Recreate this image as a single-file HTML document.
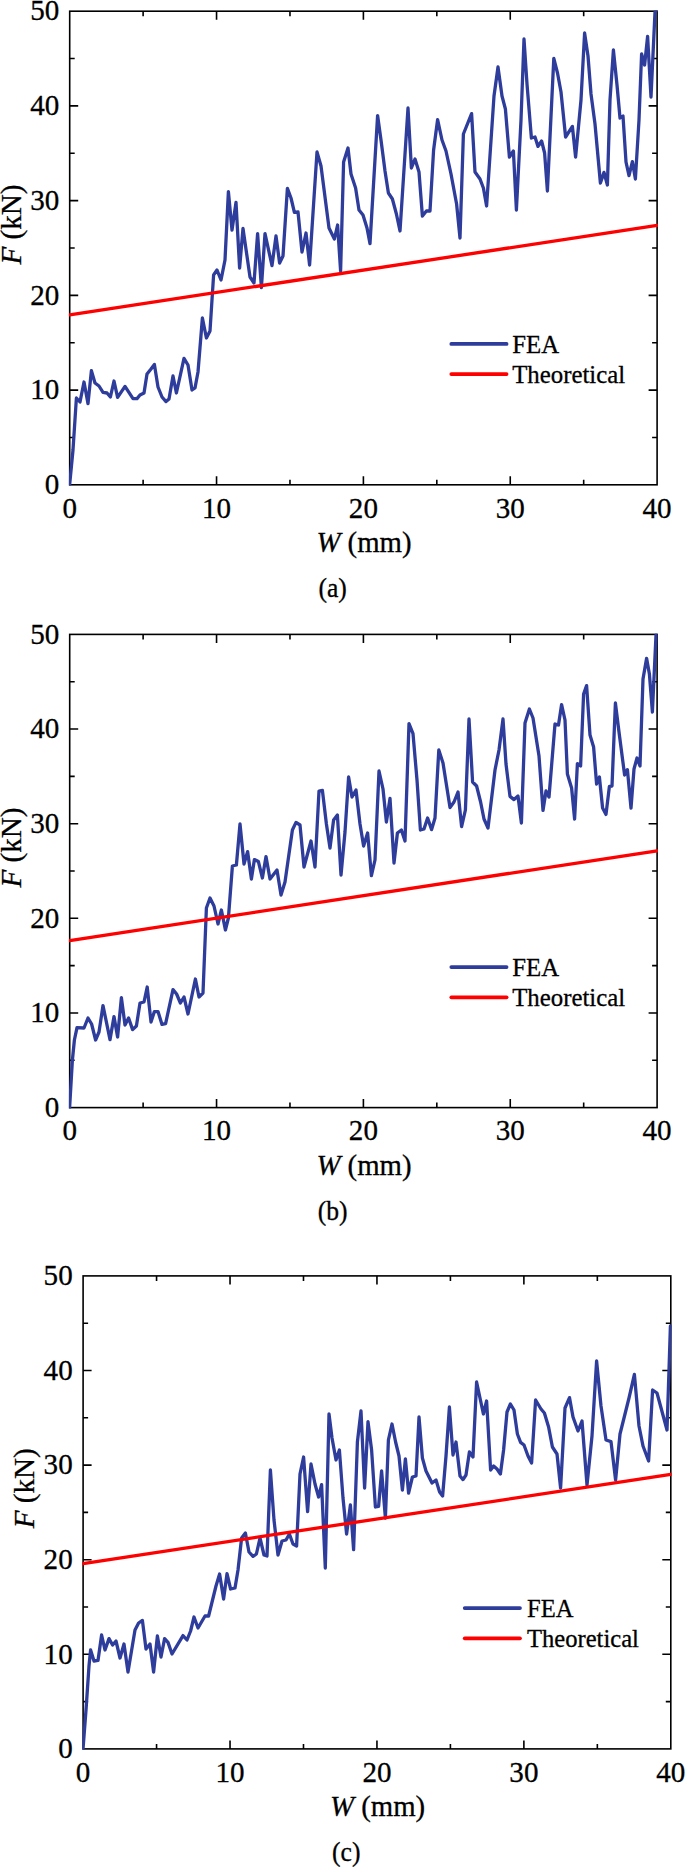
<!DOCTYPE html>
<html lang="en">
<head>
<meta charset="utf-8">
<title>Force-displacement curves</title>
<style>
html,body{margin:0;padding:0;background:#fff;}
body{width:685px;height:1867px;overflow:hidden;}
svg{display:block;font-family:"Liberation Serif","Times New Roman",serif;fill:#000;}
text{stroke:#000;stroke-width:0.3px;}
</style>
</head>
<body>
<svg width="685" height="1867" viewBox="0 0 685 1867">
<rect width="685" height="1867" fill="#fff"/>
<clipPath id="ca"><rect x="68.9" y="10.4" width="589.0" height="475.2"/></clipPath>
<path d="M143.12 484.80v-5.0M143.12 11.20v5.0M216.55 484.80v-8.5M216.55 11.20v8.5M289.97 484.80v-5.0M289.97 11.20v5.0M363.40 484.80v-8.5M363.40 11.20v8.5M436.82 484.80v-5.0M436.82 11.20v5.0M510.25 484.80v-8.5M510.25 11.20v8.5M583.68 484.80v-5.0M583.68 11.20v5.0M69.70 437.44h5.0M657.10 437.44h-5.0M69.70 390.08h8.5M657.10 390.08h-8.5M69.70 342.72h5.0M657.10 342.72h-5.0M69.70 295.36h8.5M657.10 295.36h-8.5M69.70 248.00h5.0M657.10 248.00h-5.0M69.70 200.64h8.5M657.10 200.64h-8.5M69.70 153.28h5.0M657.10 153.28h-5.0M69.70 105.92h8.5M657.10 105.92h-8.5M69.70 58.56h5.0M657.10 58.56h-5.0" stroke="#000" stroke-width="1.6" fill="none"/>
<rect x="69.70" y="11.20" width="587.40" height="473.60" fill="none" stroke="#000" stroke-width="1.6"/>
<g clip-path="url(#ca)" fill="none" stroke-linejoin="round" stroke-linecap="round" stroke-width="3.3">
<polyline stroke="#2e3c9b" points="69.6,485.0 73.0,450.0 76.4,398.0 80.0,402.0 84.0,382.0 88.0,403.6 91.4,370.6 95.0,383.0 99.0,386.0 103.0,392.4 107.0,393.0 110.4,397.0 114.0,381.0 117.6,397.4 125.0,386.4 133.0,398.6 137.0,398.6 140.0,395.0 144.0,393.0 147.0,374.0 151.0,369.0 154.4,364.4 158.0,387.0 162.0,397.0 166.0,401.6 169.0,399.0 173.0,376.0 176.4,393.0 184.0,358.4 188.0,365.0 192.0,390.0 195.0,388.0 198.0,372.0 202.4,318.0 206.4,338.0 210.0,331.0 213.6,275.0 217.0,270.0 221.0,280.0 225.0,260.0 228.4,191.6 232.0,230.0 236.0,202.4 239.6,268.0 243.0,228.4 250.0,277.0 254.0,283.0 257.6,233.6 261.4,287.6 265.0,233.6 272.0,265.6 276.0,236.0 279.6,263.0 283.0,256.0 287.4,188.4 291.0,198.0 294.4,212.4 298.0,212.0 302.0,252.0 306.0,233.0 309.6,265.0 317.0,152.0 321.0,166.0 329.0,228.0 334.4,239.0 337.6,225.0 340.6,271.0 343.6,162.0 348.0,148.0 351.0,174.0 355.6,188.0 359.0,210.0 363.0,215.0 367.0,228.0 370.0,243.6 377.6,115.6 381.0,140.0 385.0,171.0 388.4,193.0 392.4,199.0 396.4,214.0 400.0,231.0 408.0,108.0 411.4,168.0 415.0,159.0 419.0,172.0 422.4,216.0 426.4,211.0 430.0,211.0 433.6,150.0 437.6,119.6 442.0,140.0 446.0,151.0 451.0,174.0 456.6,204.0 460.0,238.0 463.4,134.0 471.6,113.6 475.0,172.0 480.0,179.0 483.4,188.0 486.6,206.0 494.0,96.0 498.0,67.0 502.0,96.0 505.4,109.0 509.4,157.0 513.4,151.0 516.4,210.0 521.0,120.0 524.0,39.0 527.0,84.0 531.4,138.0 535.0,137.0 538.0,146.4 541.6,141.0 544.6,153.0 547.4,191.0 553.8,58.4 557.5,73.0 561.0,92.0 565.6,137.0 572.4,126.4 575.6,157.0 581.0,100.0 584.6,33.0 588.0,56.0 591.0,94.0 595.0,124.0 600.4,183.0 604.0,172.4 607.4,185.0 610.0,100.0 613.4,50.0 617.0,85.0 620.0,118.0 623.0,116.0 626.0,162.0 629.0,175.6 632.4,161.6 635.4,179.0 639.0,120.0 641.6,54.0 644.6,65.0 647.6,36.4 651.0,97.0 655.0,12.0 656.0,11.0"/>
<line stroke="#ff0000" x1="69.7" y1="314.8" x2="657.1" y2="225.4"/>
</g>
<text transform="translate(59.3 494.0) scale(1 1.03)" font-size="29.1" text-anchor="end">0</text>
<text transform="translate(59.3 399.3) scale(1 1.03)" font-size="29.1" text-anchor="end">10</text>
<text transform="translate(59.3 304.6) scale(1 1.03)" font-size="29.1" text-anchor="end">20</text>
<text transform="translate(59.3 209.8) scale(1 1.03)" font-size="29.1" text-anchor="end">30</text>
<text transform="translate(59.3 115.1) scale(1 1.03)" font-size="29.1" text-anchor="end">40</text>
<text transform="translate(59.3 20.4) scale(1 1.03)" font-size="29.1" text-anchor="end">50</text>
<text transform="translate(69.7 517.5) scale(1 1.03)" font-size="29.1" text-anchor="middle">0</text>
<text transform="translate(216.6 517.5) scale(1 1.03)" font-size="29.1" text-anchor="middle">10</text>
<text transform="translate(363.4 517.5) scale(1 1.03)" font-size="29.1" text-anchor="middle">20</text>
<text transform="translate(510.2 517.5) scale(1 1.03)" font-size="29.1" text-anchor="middle">30</text>
<text transform="translate(657.1 517.5) scale(1 1.03)" font-size="29.1" text-anchor="middle">40</text>
<text transform="translate(364.0 552.0) scale(1 1.03)" font-size="28.8" text-anchor="middle"><tspan font-style="italic">W</tspan> (mm)</text>
<text transform="translate(332.6 597.1) scale(1 1.03)" font-size="25.6" text-anchor="middle">(a)</text>
<text transform="translate(20.7 224.5) rotate(-90) scale(1 1.0)" font-size="29.1" text-anchor="middle"><tspan font-style="italic">F</tspan> (kN)</text>
<g stroke-width="3.7" stroke-linecap="round"><line x1="451.3" y1="343.9" x2="506.6" y2="343.9" stroke="#2e3c9b"/><line x1="451.3" y1="374.1" x2="506.6" y2="374.1" stroke="#ff0000"/></g>
<text transform="translate(512.2 353.1) scale(1 1.025)" font-size="24.8" text-anchor="start">FEA</text>
<text transform="translate(512.2 382.5) scale(1 1.025)" font-size="24.8" text-anchor="start">Theoretical</text>
<clipPath id="cb"><rect x="68.9" y="633.6" width="589.0" height="474.8"/></clipPath>
<path d="M143.12 1107.60v-5.0M143.12 634.40v5.0M216.55 1107.60v-8.5M216.55 634.40v8.5M289.97 1107.60v-5.0M289.97 634.40v5.0M363.40 1107.60v-8.5M363.40 634.40v8.5M436.82 1107.60v-5.0M436.82 634.40v5.0M510.25 1107.60v-8.5M510.25 634.40v8.5M583.68 1107.60v-5.0M583.68 634.40v5.0M69.70 1060.28h5.0M657.10 1060.28h-5.0M69.70 1012.96h8.5M657.10 1012.96h-8.5M69.70 965.64h5.0M657.10 965.64h-5.0M69.70 918.32h8.5M657.10 918.32h-8.5M69.70 871.00h5.0M657.10 871.00h-5.0M69.70 823.68h8.5M657.10 823.68h-8.5M69.70 776.36h5.0M657.10 776.36h-5.0M69.70 729.04h8.5M657.10 729.04h-8.5M69.70 681.72h5.0M657.10 681.72h-5.0" stroke="#000" stroke-width="1.6" fill="none"/>
<rect x="69.70" y="634.40" width="587.40" height="473.20" fill="none" stroke="#000" stroke-width="1.6"/>
<g clip-path="url(#cb)" fill="none" stroke-linejoin="round" stroke-linecap="round" stroke-width="3.3">
<polyline stroke="#2e3c9b" points="69.6,1108.0 72.4,1060.0 74.4,1040.0 77.0,1027.6 84.0,1028.0 88.0,1018.0 91.6,1024.0 95.6,1040.0 99.0,1032.0 103.0,1005.6 110.0,1039.6 114.0,1016.6 117.6,1037.0 121.4,997.6 125.0,1025.0 128.6,1018.0 132.6,1029.6 136.4,1026.0 140.0,1003.0 144.0,1002.0 147.2,987.0 151.0,1022.0 154.4,1011.6 158.0,1011.6 162.0,1024.4 165.6,1023.6 173.0,989.6 176.6,994.0 180.4,1003.0 184.0,997.0 188.0,1014.0 195.4,979.0 199.0,997.0 203.0,993.0 206.4,908.0 210.0,898.0 214.0,906.0 218.0,924.0 221.4,910.0 225.4,930.0 228.4,918.0 232.4,866.0 236.4,865.0 240.0,824.0 244.0,864.0 247.6,851.6 251.4,879.0 254.4,859.6 258.4,861.6 262.4,878.0 266.0,856.6 270.0,879.0 277.0,870.0 281.0,895.0 285.0,882.0 292.4,830.0 296.0,822.4 300.0,825.0 304.0,867.0 311.0,841.0 315.0,867.0 319.0,791.0 322.4,790.4 326.4,824.0 330.0,848.0 333.6,820.0 337.4,815.0 341.0,875.0 345.0,832.0 348.6,777.0 352.0,797.0 356.0,790.0 360.0,824.0 363.6,846.0 367.6,833.0 371.4,875.6 375.0,860.0 379.0,771.0 383.0,789.0 386.4,822.0 390.0,798.4 394.0,863.0 397.4,833.0 401.4,830.0 405.0,841.0 409.0,723.6 413.0,733.6 417.0,780.0 420.4,830.0 424.0,829.0 427.6,818.0 431.6,829.6 435.0,818.0 438.8,750.0 443.0,763.0 450.0,807.6 454.0,802.0 458.0,792.0 461.6,826.6 465.4,810.0 469.0,719.0 472.6,782.0 476.6,786.0 480.6,802.0 484.0,819.0 488.0,828.0 495.0,770.0 499.0,750.0 503.0,719.0 506.0,764.0 510.0,796.4 514.0,799.6 518.0,796.0 521.4,823.0 525.0,723.0 529.4,709.0 533.0,718.0 539.0,756.0 543.0,810.4 546.0,791.0 549.0,797.0 555.0,724.0 558.5,725.0 561.6,704.6 565.0,720.0 567.4,774.0 571.6,788.0 574.6,819.0 577.4,763.6 580.6,766.0 583.6,694.0 586.6,685.6 590.0,735.0 593.6,747.0 596.6,784.0 599.4,777.0 602.6,808.0 606.0,814.4 609.4,786.4 612.0,786.0 615.4,703.0 619.0,732.0 624.6,775.0 627.4,769.6 631.0,808.0 634.0,769.0 637.0,758.0 640.0,766.0 643.0,679.0 646.6,658.4 649.4,674.0 652.4,712.0 656.0,635.0"/>
<line stroke="#ff0000" x1="69.7" y1="940.6" x2="657.1" y2="850.8"/>
</g>
<text transform="translate(59.3 1116.8) scale(1 1.03)" font-size="29.1" text-anchor="end">0</text>
<text transform="translate(59.3 1022.2) scale(1 1.03)" font-size="29.1" text-anchor="end">10</text>
<text transform="translate(59.3 927.5) scale(1 1.03)" font-size="29.1" text-anchor="end">20</text>
<text transform="translate(59.3 832.9) scale(1 1.03)" font-size="29.1" text-anchor="end">30</text>
<text transform="translate(59.3 738.2) scale(1 1.03)" font-size="29.1" text-anchor="end">40</text>
<text transform="translate(59.3 643.6) scale(1 1.03)" font-size="29.1" text-anchor="end">50</text>
<text transform="translate(69.7 1140.3) scale(1 1.03)" font-size="29.1" text-anchor="middle">0</text>
<text transform="translate(216.6 1140.3) scale(1 1.03)" font-size="29.1" text-anchor="middle">10</text>
<text transform="translate(363.4 1140.3) scale(1 1.03)" font-size="29.1" text-anchor="middle">20</text>
<text transform="translate(510.2 1140.3) scale(1 1.03)" font-size="29.1" text-anchor="middle">30</text>
<text transform="translate(657.1 1140.3) scale(1 1.03)" font-size="29.1" text-anchor="middle">40</text>
<text transform="translate(364.0 1174.8) scale(1 1.03)" font-size="28.8" text-anchor="middle"><tspan font-style="italic">W</tspan> (mm)</text>
<text transform="translate(332.6 1219.9) scale(1 1.03)" font-size="25.6" text-anchor="middle">(b)</text>
<text transform="translate(20.7 847.5) rotate(-90) scale(1 1.0)" font-size="29.1" text-anchor="middle"><tspan font-style="italic">F</tspan> (kN)</text>
<g stroke-width="3.7" stroke-linecap="round"><line x1="451.3" y1="967.1" x2="506.6" y2="967.1" stroke="#2e3c9b"/><line x1="451.3" y1="997.3" x2="506.6" y2="997.3" stroke="#ff0000"/></g>
<text transform="translate(512.2 976.3) scale(1 1.025)" font-size="24.8" text-anchor="start">FEA</text>
<text transform="translate(512.2 1005.7) scale(1 1.025)" font-size="24.8" text-anchor="start">Theoretical</text>
<clipPath id="cc"><rect x="82.3" y="1275.1" width="589.3" height="474.6"/></clipPath>
<path d="M156.56 1748.90v-5.0M156.56 1275.90v5.0M230.03 1748.90v-8.5M230.03 1275.90v8.5M303.49 1748.90v-5.0M303.49 1275.90v5.0M376.95 1748.90v-8.5M376.95 1275.90v8.5M450.41 1748.90v-5.0M450.41 1275.90v5.0M523.88 1748.90v-8.5M523.88 1275.90v8.5M597.34 1748.90v-5.0M597.34 1275.90v5.0M83.10 1701.60h5.0M670.80 1701.60h-5.0M83.10 1654.30h8.5M670.80 1654.30h-8.5M83.10 1607.00h5.0M670.80 1607.00h-5.0M83.10 1559.70h8.5M670.80 1559.70h-8.5M83.10 1512.40h5.0M670.80 1512.40h-5.0M83.10 1465.10h8.5M670.80 1465.10h-8.5M83.10 1417.80h5.0M670.80 1417.80h-5.0M83.10 1370.50h8.5M670.80 1370.50h-8.5M83.10 1323.20h5.0M670.80 1323.20h-5.0" stroke="#000" stroke-width="1.6" fill="none"/>
<rect x="83.10" y="1275.90" width="587.70" height="473.00" fill="none" stroke="#000" stroke-width="1.6"/>
<g clip-path="url(#cc)" fill="none" stroke-linejoin="round" stroke-linecap="round" stroke-width="3.3">
<polyline stroke="#2e3c9b" points="83.0,1749.0 86.0,1710.0 89.0,1666.0 90.6,1650.0 94.0,1661.0 98.0,1660.4 101.6,1635.0 105.0,1650.0 109.0,1638.6 112.6,1645.0 116.0,1641.0 120.0,1658.0 124.0,1644.0 128.0,1672.0 135.0,1630.0 138.6,1623.0 142.4,1620.4 146.0,1649.0 150.0,1644.0 153.6,1672.0 157.4,1636.0 161.0,1657.0 164.6,1638.6 168.0,1642.4 172.0,1654.0 183.0,1635.6 187.0,1640.0 190.6,1631.0 194.0,1617.0 198.0,1628.0 205.0,1616.0 208.6,1616.0 216.0,1586.0 219.6,1574.0 223.6,1599.0 227.0,1573.6 230.6,1589.0 235.0,1588.0 238.0,1570.0 241.6,1538.0 245.4,1533.0 249.0,1552.0 253.0,1556.4 256.4,1554.0 260.0,1538.0 264.0,1555.0 267.0,1556.0 270.4,1470.0 274.0,1520.0 278.0,1555.0 282.0,1541.0 286.0,1540.0 289.4,1534.0 293.0,1544.0 296.6,1546.0 300.0,1474.0 303.6,1457.0 307.6,1511.6 311.0,1464.0 315.0,1484.0 318.6,1497.0 321.6,1484.6 325.3,1568.0 329.0,1414.0 332.0,1438.0 336.0,1460.0 339.4,1450.0 343.0,1498.0 346.6,1534.0 350.4,1505.0 353.6,1549.6 357.4,1442.0 361.0,1411.0 364.6,1488.0 368.0,1421.6 371.6,1450.0 375.4,1507.0 378.6,1506.4 381.6,1471.0 385.4,1518.0 388.4,1440.0 392.0,1424.0 395.6,1442.0 399.0,1456.0 402.4,1490.0 405.4,1459.0 408.6,1493.0 412.4,1477.0 416.0,1476.0 419.0,1417.0 422.4,1458.0 426.0,1471.0 432.0,1483.0 436.0,1480.0 439.6,1492.0 442.6,1496.0 446.0,1456.0 449.4,1407.0 453.0,1455.0 456.0,1442.0 460.0,1476.0 463.0,1479.6 466.0,1475.0 469.4,1452.0 473.0,1457.0 476.6,1382.0 480.0,1398.0 483.4,1414.0 486.6,1401.0 490.6,1470.0 493.6,1466.0 497.0,1469.0 500.4,1474.0 503.6,1450.0 507.0,1412.0 510.4,1404.0 514.0,1410.0 517.4,1434.0 520.6,1442.4 524.0,1445.0 528.0,1456.0 531.6,1463.0 535.6,1400.0 541.0,1409.0 544.4,1413.0 548.6,1427.0 552.4,1447.0 557.0,1454.0 560.6,1488.0 565.0,1408.0 569.5,1397.6 573.0,1417.0 578.0,1431.0 582.0,1421.0 587.0,1485.0 592.0,1436.0 596.6,1361.0 601.0,1406.0 606.0,1440.0 611.0,1441.6 615.6,1480.0 620.0,1434.0 629.0,1398.0 634.4,1374.4 639.0,1426.0 643.0,1446.0 648.6,1461.0 652.6,1390.0 657.0,1393.0 667.0,1430.0 669.0,1370.0 670.4,1326.0"/>
<line stroke="#ff0000" x1="83.1" y1="1563.6" x2="670.8" y2="1474.4"/>
</g>
<text transform="translate(72.7 1758.1) scale(1 1.03)" font-size="29.1" text-anchor="end">0</text>
<text transform="translate(72.7 1663.5) scale(1 1.03)" font-size="29.1" text-anchor="end">10</text>
<text transform="translate(72.7 1568.9) scale(1 1.03)" font-size="29.1" text-anchor="end">20</text>
<text transform="translate(72.7 1474.3) scale(1 1.03)" font-size="29.1" text-anchor="end">30</text>
<text transform="translate(72.7 1379.7) scale(1 1.03)" font-size="29.1" text-anchor="end">40</text>
<text transform="translate(72.7 1285.1) scale(1 1.03)" font-size="29.1" text-anchor="end">50</text>
<text transform="translate(83.1 1781.6) scale(1 1.03)" font-size="29.1" text-anchor="middle">0</text>
<text transform="translate(230.0 1781.6) scale(1 1.03)" font-size="29.1" text-anchor="middle">10</text>
<text transform="translate(377.0 1781.6) scale(1 1.03)" font-size="29.1" text-anchor="middle">20</text>
<text transform="translate(523.9 1781.6) scale(1 1.03)" font-size="29.1" text-anchor="middle">30</text>
<text transform="translate(670.8 1781.6) scale(1 1.03)" font-size="29.1" text-anchor="middle">40</text>
<text transform="translate(377.6 1816.1) scale(1 1.03)" font-size="28.8" text-anchor="middle"><tspan font-style="italic">W</tspan> (mm)</text>
<text transform="translate(346.2 1861.2) scale(1 1.03)" font-size="25.6" text-anchor="middle">(c)</text>
<text transform="translate(34.1 1488.3) rotate(-90) scale(1 1.0)" font-size="29.1" text-anchor="middle"><tspan font-style="italic">F</tspan> (kN)</text>
<g stroke-width="3.7" stroke-linecap="round"><line x1="464.7" y1="1608.1" x2="520.0" y2="1608.1" stroke="#2e3c9b"/><line x1="464.7" y1="1638.3" x2="520.0" y2="1638.3" stroke="#ff0000"/></g>
<text transform="translate(527.0 1616.8) scale(1 1.025)" font-size="24.6" text-anchor="start">FEA</text>
<text transform="translate(527.0 1647.0) scale(1 1.025)" font-size="24.6" text-anchor="start">Theoretical</text>
</svg>
</body>
</html>
